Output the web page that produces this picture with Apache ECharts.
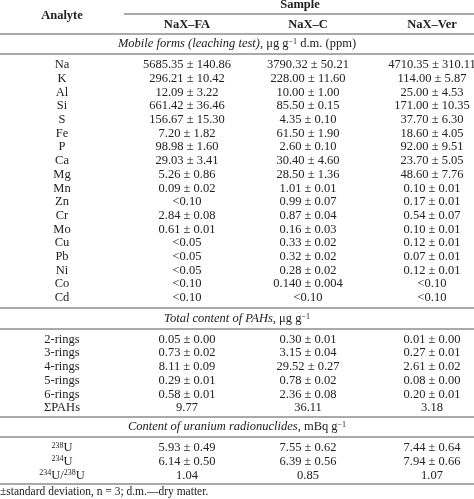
<!DOCTYPE html>
<html><head><meta charset="utf-8">
<script src="https://cdn.jsdelivr.net/npm/echarts@6/dist/echarts.min.js"></script>
<style>html,body{margin:0;padding:0;background:#fff}#c{width:474px;height:499px}</style>
</head><body><div id="c"></div>
<script>
var columns = ['NaX\u2013FA', 'NaX\u2013C', 'NaX\u2013Ver'];
var mobileAnalytes = ['Na','K','Al','Si','S','Fe','P','Ca','Mg','Mn','Zn','Cr','Mo','Cu','Pb','Ni','Co','Cd'];
var mobileFA = ['5685.35 \u00b1 140.86','296.21 \u00b1 10.42','12.09 \u00b1 3.22','661.42 \u00b1 36.46','156.67 \u00b1 15.30','7.20 \u00b1 1.82','98.98 \u00b1 1.60','29.03 \u00b1 3.41','5.26 \u00b1 0.86','0.09 \u00b1 0.02','<0.10','2.84 \u00b1 0.08','0.61 \u00b1 0.01','<0.05','<0.05','<0.05','<0.10','<0.10'];
var mobileC = ['3790.32 \u00b1 50.21','228.00 \u00b1 11.60','10.00 \u00b1 1.00','85.50 \u00b1 0.15','4.35 \u00b1 0.10','61.50 \u00b1 1.90','2.60 \u00b1 0.10','30.40 \u00b1 4.60','28.50 \u00b1 1.36','1.01 \u00b1 0.01','0.99 \u00b1 0.07','0.87 \u00b1 0.04','0.16 \u00b1 0.03','0.33 \u00b1 0.02','0.32 \u00b1 0.02','0.28 \u00b1 0.02','0.140 \u00b1 0.004','<0.10'];
var mobileVer = ['4710.35 \u00b1 310.11','114.00 \u00b1 5.87','25.00 \u00b1 4.53','171.00 \u00b1 10.35','37.70 \u00b1 6.30','18.60 \u00b1 4.05','92.00 \u00b1 9.51','23.70 \u00b1 5.05','48.60 \u00b1 7.76','0.10 \u00b1 0.01','0.17 \u00b1 0.01','0.54 \u00b1 0.07','0.10 \u00b1 0.01','0.12 \u00b1 0.01','0.07 \u00b1 0.01','0.12 \u00b1 0.01','<0.10','<0.10'];
var pahAnalytes = ['2-rings','3-rings','4-rings','5-rings','6-rings','\u03a3PAHs'];
var pahFA = ['0.05 \u00b1 0.00','0.73 \u00b1 0.02','8.11 \u00b1 0.09','0.29 \u00b1 0.01','0.58 \u00b1 0.01','9.77'];
var pahC = ['0.30 \u00b1 0.01','3.15 \u00b1 0.04','29.52 \u00b1 0.27','0.78 \u00b1 0.02','2.36 \u00b1 0.08','36.11'];
var pahVer = ['0.01 \u00b1 0.00','0.27 \u00b1 0.01','2.61 \u00b1 0.02','0.08 \u00b1 0.00','0.20 \u00b1 0.01','3.18'];
var uAnalytes = ['{s|238}U','{s|234}U','{s|234}U/{s|238}U'];
var uFA = ['5.93 \u00b1 0.49','6.14 \u00b1 0.50','1.04'];
var uC = ['7.55 \u00b1 0.62','6.39 \u00b1 0.56','0.85'];
var uVer = ['7.44 \u00b1 0.64','7.94 \u00b1 0.66','1.07'];

var F = '"Liberation Serif", "DejaVu Serif", serif';
var colX = [62, 187, 308, 432];
var els = [];
function txt(x, y, s, opt) {
  opt = opt || {};
  els.push({type:'text', x:x, y:y, style:{text:s, fontFamily:F, fontSize:opt.size||12.5,
    fontWeight:opt.bold?'bold':'normal', fontStyle:opt.italic?'italic':'normal', fill:'#222',
    align:opt.align||'center', verticalAlign:'middle',
    rich:{s:{fontSize:8, verticalAlign:'top', fontFamily:F, fill:'#222', padding:[0,0,5,0]},
          i:{fontStyle:'italic', fontFamily:F, fontSize:12.5, fill:'#222'},
          n:{fontFamily:F, fontSize:12.5, fill:'#222'}}}});
}
function line(x1, y, x2, w) {
  els.push({type:'line', shape:{x1:x1, y1:y, x2:x2, y2:y}, style:{stroke:'#555', lineWidth:w||1}});
}
txt(62, 16, 'Analyte', {bold:true});
txt(300, 5, 'Sample', {bold:true});
line(124, 14, 474);
for (var i = 0; i < 3; i++) txt(colX[i+1], 25, columns[i], {bold:true});
line(0, 34, 474);
txt(237, 44, '{i|Mobile forms (leaching test)}{n|, \u03bcg g}{s|\u22121}{n| d.m. (ppm)}');
line(0, 54, 474);
function block(y0, names, a, b, c) {
  for (var i = 0; i < names.length; i++) {
    var y = y0 + i * 13.7;
    txt(colX[0], y, names[i]); txt(colX[1], y, a[i]); txt(colX[2], y, b[i]); txt(colX[3], y, c[i]);
  }
}
block(65, mobileAnalytes, mobileFA, mobileC, mobileVer);
line(0, 308, 474);
txt(237, 319, '{i|Total content of PAHs}{n|, \u03bcg g}{s|\u22121}');
line(0, 329, 474);
block(339.5, pahAnalytes, pahFA, pahC, pahVer);
line(0, 417, 474);
txt(237, 427, '{i|Content of uranium radionuclides}{n|, mBq g}{s|\u22121}');
line(0, 437, 474);
block(448, uAnalytes, uFA, uC, uVer);
line(0, 484, 474);
txt(0, 492, '\u00b1standard deviation, n = 3; d.m.\u2014dry matter.', {align:'left', size:11.5});

var chart = echarts.init(document.getElementById('c'));
chart.setOption({animation:false, graphic:{elements:els}});
</script></body></html>
